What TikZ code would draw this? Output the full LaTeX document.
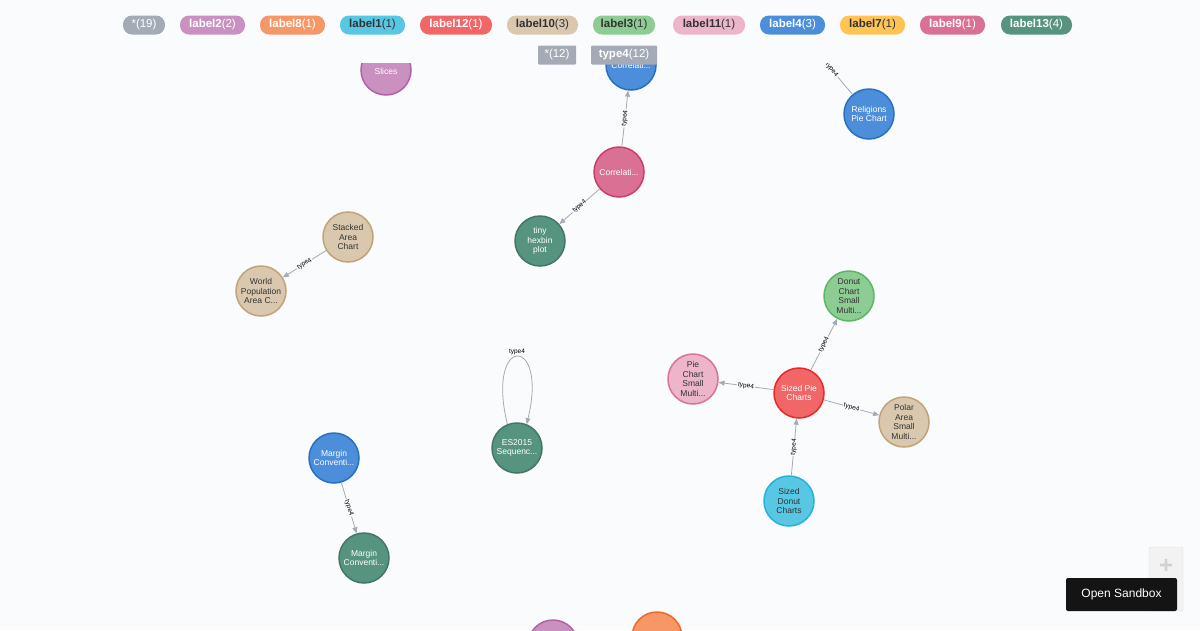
\documentclass[tikz,border=0pt]{standalone}
\usepackage{fontspec}
\setmainfont{Liberation Sans}
\usetikzlibrary{arrows.meta}
\definecolor{bg}{HTML}{F9FBFD}
\definecolor{cgray}{HTML}{A5ABB6}
\definecolor{cl2}{HTML}{C990C0}\definecolor{sl2}{HTML}{B261A5}
\definecolor{cl8}{HTML}{F79767}\definecolor{sl8}{HTML}{F36924}
\definecolor{cl1}{HTML}{57C7E3}\definecolor{sl1}{HTML}{23B3D7}
\definecolor{cl12}{HTML}{F16667}\definecolor{sl12}{HTML}{EB2728}
\definecolor{cl10}{HTML}{D9C8AE}\definecolor{sl10}{HTML}{C0A378}
\definecolor{cl3}{HTML}{8DCC93}\definecolor{sl3}{HTML}{5DB665}
\definecolor{cl11}{HTML}{ECB5C9}\definecolor{sl11}{HTML}{DA7298}
\definecolor{cl4}{HTML}{4C8EDA}\definecolor{sl4}{HTML}{2870C2}
\definecolor{cl7}{HTML}{FFC454}\definecolor{sl7}{HTML}{D7A013}
\definecolor{cl9}{HTML}{DA7194}\definecolor{sl9}{HTML}{CC3C6C}
\definecolor{cl13}{HTML}{569480}\definecolor{sl13}{HTML}{447666}
\definecolor{dk}{HTML}{333333}
\tikzset{
 x=1pt,y=-1pt,
 nd/.style 2 args={circle,minimum size=50pt,inner sep=0pt,fill=#1,draw=#2,line width=1.5pt,align=center,font=\fontsize{8.5}{9.5}\selectfont,text=white},
 dt/.style={text=dk},
 ed/.style={draw=cgray,line width=0.8pt,-{Triangle[length=6pt,width=5pt]}},
 el/.style={font=\fontsize{6.5}{7}\selectfont,text=black,fill=bg,inner sep=1pt,sloped},
 pill/.style={rounded corners=9pt,minimum height=19pt,inner sep=3pt,font=\fontsize{11.5}{12}\selectfont,text=white},
 tag/.style={rounded corners=1pt,minimum height=19pt,inner sep=3pt,font=\fontsize{11.5}{12}\selectfont,text=white,fill=cgray},
}
\begin{document}
\begin{tikzpicture}
\fill[bg] (0,0) rectangle (1200,630);
\useasboundingbox (0,0) rectangle (1200,630);
\begin{scope}
\clip (0,63) rectangle (1200,630);
\node[nd={cl2}{sl2}] (sl) at (386,70) {\\Slices};
\node[nd={cl4}{sl4}] (c1) at (631,65) {Correlati...};
\node[nd={cl9}{sl9}] (c2) at (619,172) {Correlati...};
\node[nd={cl13}{sl13}] (hex) at (540,241) {tiny\\hexbin\\plot};
\node[nd={cl4}{sl4}] (rel) at (869,114) {Religions\\Pie Chart};
\coordinate (rel0) at (815,50);
\node[nd={cl10}{sl10},dt] (sa) at (348,237) {Stacked\\Area\\Chart};
\node[nd={cl10}{sl10},dt] (wp) at (261,291) {World\\Population\\Area C...};
\node[nd={cl13}{sl13}] (es) at (517,448) {ES2015\\Sequenc...};
\node[nd={cl4}{sl4}] (m1) at (334,458) {Margin\\Conventi...};
\node[nd={cl13}{sl13}] (m2) at (364,558) {Margin\\Conventi...};
\node[nd={cl12}{sl12}] (sp) at (799,393) {Sized Pie\\Charts};
\node[nd={cl3}{sl3},dt] (dc) at (849,296) {Donut\\Chart\\Small\\Multi...};
\node[nd={cl11}{sl11},dt] (pc) at (693,379) {Pie\\Chart\\Small\\Multi...};
\node[nd={cl10}{sl10},dt] (pa) at (904,422) {Polar\\Area\\Small\\Multi...};
\node[nd={cl1}{sl1},dt] (sd) at (789,501) {Sized\\Donut\\Charts};
\node[nd={cl2}{sl2}] (b1) at (553,645) {};
\node[nd={cl8}{sl8}] (b2) at (657,637) {Chicago};
\draw[ed] (c2) -- node[el] {type4} (c1);
\draw[ed] (c2) -- node[el] {type4} (hex);
\draw[draw=cgray,line width=0.8pt] (rel0) -- node[el,pos=0.45] {type4} (rel);
\draw[ed] (sa) -- node[el] {type4} (wp);
\draw[ed] (es.112) .. controls +(-22,-90) and +(22,-90) .. node[el,above,fill=none,sloped=false] {type4} (es.68);
\draw[ed] (m1) -- node[el] {type4} (m2);
\draw[ed] (sp) -- node[el] {type4} (dc);
\draw[ed] (sp) -- node[el] {type4} (pc);
\draw[ed] (sp) -- node[el] {type4} (pa);
\draw[ed] (sd) -- node[el] {type4} (sp);
\end{scope}
% legend
\node[pill,fill=cgray,minimum width=42pt] (p0) at (144,25) {*(19)};
\node[pill,fill=cl2,minimum width=65pt] (p1) at (212.5,25) {\textbf{label2}(2)};
\node[pill,fill=cl8,minimum width=65pt] (p2) at (292.5,25) {\textbf{label8}(1)};
\node[pill,fill=cl1,minimum width=65pt,text=dk] (p3) at (372.5,25) {\textbf{label1}(1)};
\node[pill,fill=cl12,minimum width=72pt] (p4) at (456,25) {\textbf{label12}(1)};
\node[pill,fill=cl10,minimum width=71pt,text=dk] (p5) at (542.5,25) {\textbf{label10}(3)};
\node[pill,fill=cl3,minimum width=62pt,text=dk] (p6) at (624,25) {\textbf{label3}(1)};
\node[pill,fill=cl11,minimum width=72pt,text=dk] (p7) at (709,25) {\textbf{label11}(1)};
\node[pill,fill=cl4,minimum width=65pt] (p8) at (792.5,25) {\textbf{label4}(3)};
\node[pill,fill=cl7,minimum width=65pt,text=dk] (p9) at (872.5,25) {\textbf{label7}(1)};
\node[pill,fill=cl9,minimum width=65pt] (p10) at (952.5,25) {\textbf{label9}(1)};
\node[pill,fill=cl13,minimum width=71pt] (p11) at (1036.5,25) {\textbf{label13}(4)};
\node[tag,minimum width=38pt] (t0) at (557,55) {*(12)};
\node[tag,minimum width=66pt] (t1) at (624,55) {\textbf{type4}(12)};
% controls
\node[draw=black!12,fill=black!5,rounded corners=2pt,minimum width=34pt,minimum height=64pt] (zb) at (1166,579) {};
\node[font=\fontsize{24}{24}\selectfont\bfseries,text=black!18] (plus) at (1166,566) {+};
\node[fill=black!92,rounded corners=2pt,minimum width=111pt,minimum height=33pt,text=white,font=\fontsize{12}{13}\selectfont] (os) at (1121.5,594.5) {Open Sandbox};
\end{tikzpicture}
\end{document}
